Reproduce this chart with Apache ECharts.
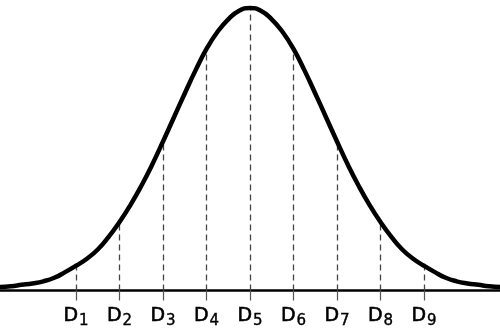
<!DOCTYPE html>
<html>
<head>
<meta charset="utf-8">
<script src="https://cdn.jsdelivr.net/npm/echarts@6/dist/echarts.min.js"></script>
<style>
html,body{margin:0;padding:0;background:#fff;}
#chart{width:500px;height:335px;}
</style>
</head>
<body>
<div id="chart"></div>
<script>
// Curve readings: x position (decile units, D5 = 5) and curve height
var curveX = [-0.75,-0.5,-0.25,0,0.25,0.5,0.75,1,1.25,1.5,1.75,2,2.25,2.5,2.75,3,3.25,3.5,3.75,4,4.25,4.5,4.75,5,
              5.25,5.5,5.75,6,6.25,6.5,6.75,7,7.25,7.5,7.75,8,8.25,8.5,8.75,9,9.25,9.5,9.75,10,10.25,10.5,10.75];
var curveY = [0.005,0.006,0.008,0.010,0.013,0.018,0.026,0.035,0.045,0.058,0.076,0.097,0.121,0.148,0.178,0.211,0.245,0.279,0.312,0.342,0.366,0.384,0.396,0.400,
              0.396,0.384,0.366,0.342,0.312,0.279,0.245,0.211,0.178,0.148,0.121,0.097,0.076,0.058,0.045,0.035,0.026,0.018,0.013,0.010,0.008,0.006,0.005];
// Deciles
var decileX = [1,2,3,4,5,6,7,8,9];
var decileLabels = ['1','2','3','4','5','6','7','8','9'];

var curveData = curveX.map(function(x,i){return [x, curveY[i]];});
var dashData = decileX.map(function(x){
  var h = curveY[curveX.indexOf(x)];
  return {coords:[[x,0],[x,h]]};
});

var chart = echarts.init(document.getElementById('chart'), null, {renderer:'canvas'});
chart.setOption({
  animation:false,
  backgroundColor:'#ffffff',
  grid:{left:0,right:0,top:0,bottom:44.5,containLabel:false},
  xAxis:{
    type:'value', min:-0.747, max:10.747,
    splitLine:{show:false},
    axisLine:{show:true, onZero:false, lineStyle:{color:'#000', width:2.5}},
    axisTick:{show:true, customValues:decileX, length:10, lineStyle:{color:'#555', width:1.2}},
    axisLabel:{
      show:true, customValues:decileX, margin:14,
      formatter:function(v){
        var i = decileX.indexOf(v);
        return '{d|D}{s|' + decileLabels[i] + '}';
      },
      rich:{
        d:{fontFamily:'DejaVu Sans', fontSize:19, lineHeight:24, color:'#000', textBorderColor:'#000', textBorderWidth:0.6},
        s:{fontFamily:'DejaVu Sans', fontSize:15, lineHeight:13, color:'#000', verticalAlign:'bottom', padding:[0,0,0,1], textBorderColor:'#000', textBorderWidth:0.4}
      }
    }
  },
  yAxis:{type:'value', min:0, max:0.4113, show:false, splitLine:{show:false}},
  series:[
    {
      type:'lines', coordinateSystem:'cartesian2d', z:1,
      data:dashData,
      lineStyle:{color:'#444', width:1.3, type:[6,4], opacity:1},
      silent:true
    },
    {
      type:'line', z:3, data:curveData, smooth:true, symbol:'none',
      lineStyle:{color:'#000', width:4.5},
      silent:true
    }
  ]
});
</script>
</body>
</html>
